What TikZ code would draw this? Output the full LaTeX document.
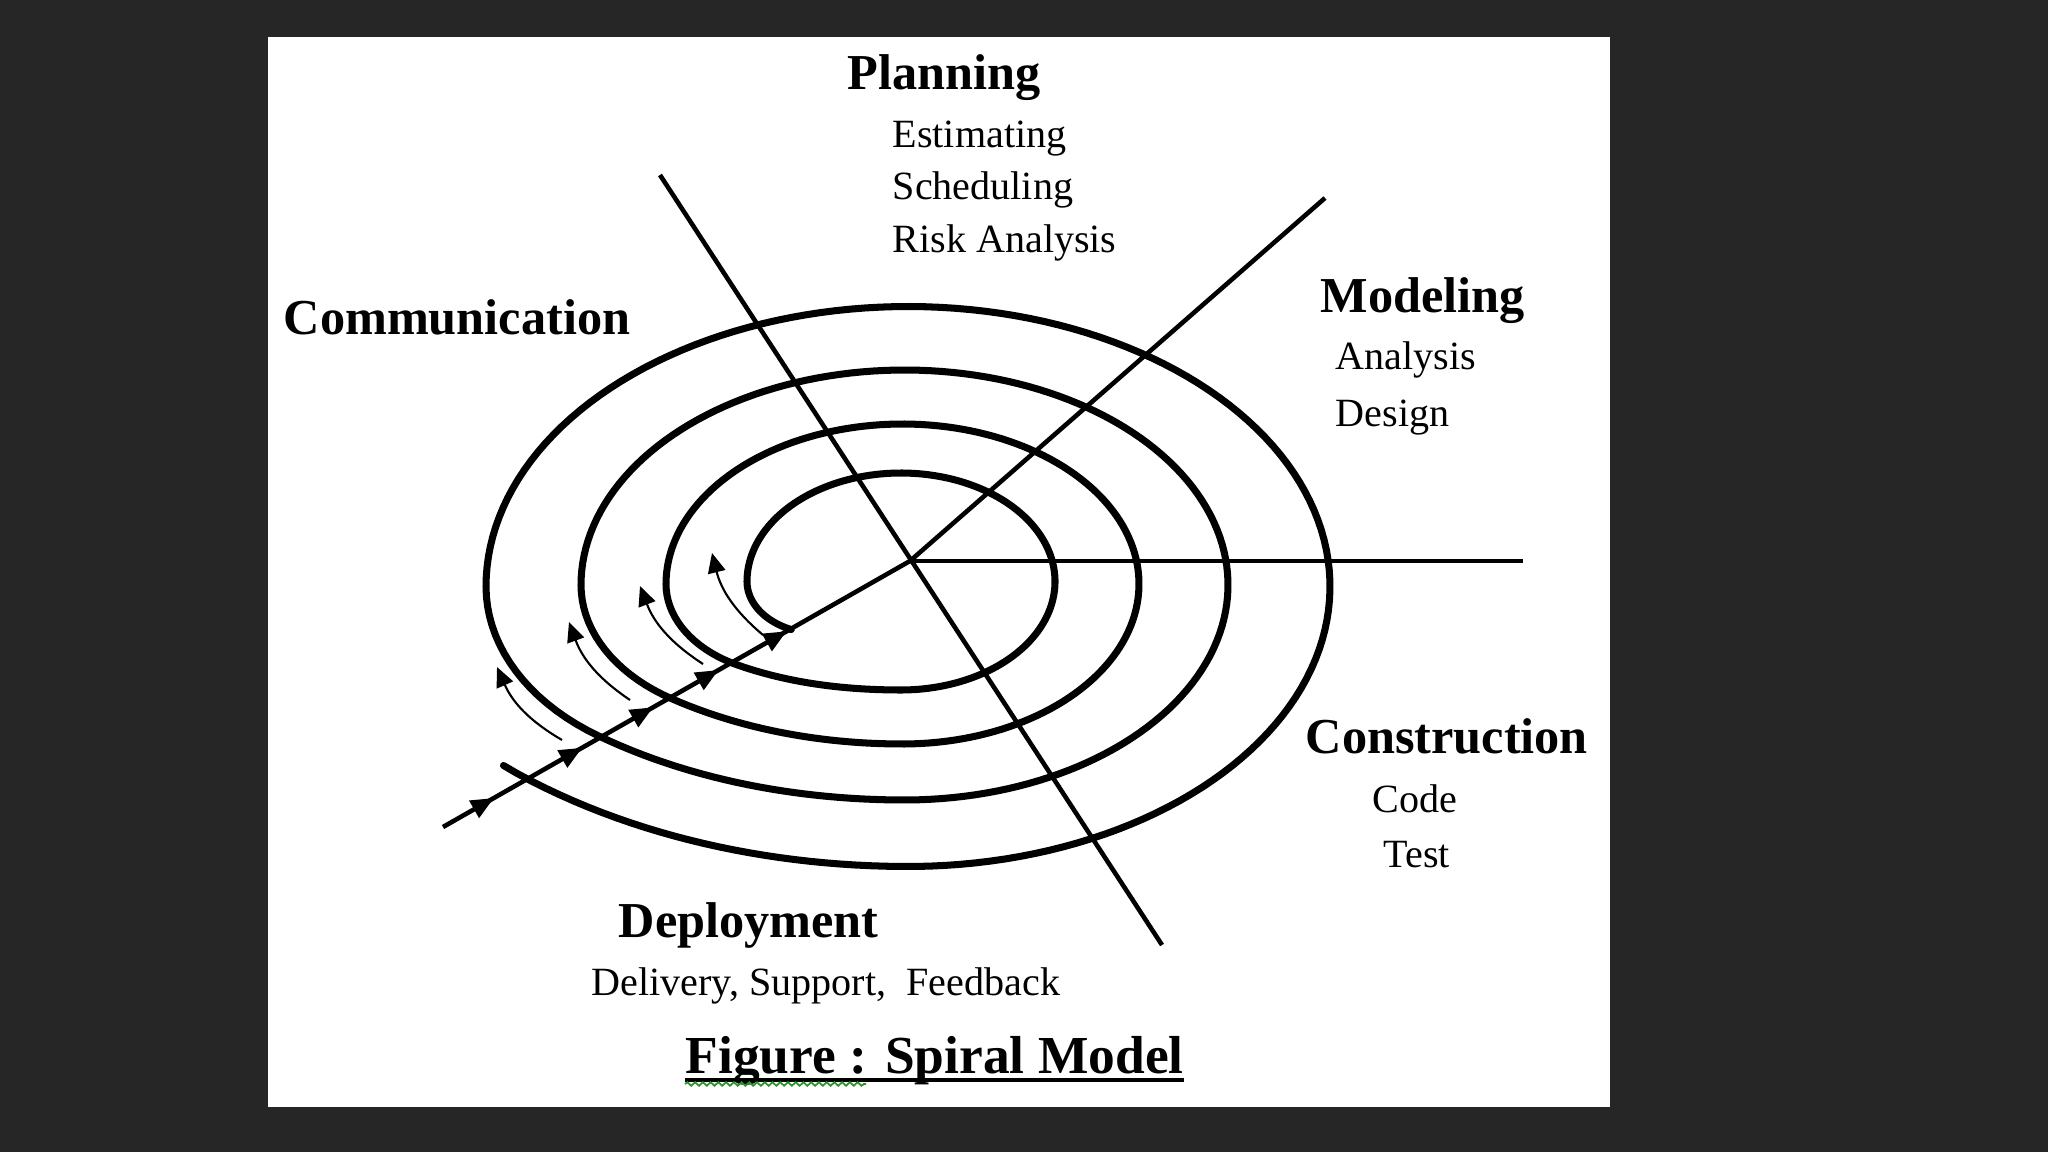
\documentclass[tikz,border=0pt]{standalone}
\usepackage{fontspec}
\setmainfont{Liberation Serif}
\usetikzlibrary{arrows.meta,decorations.markings,decorations.pathmorphing}
\definecolor{board}{RGB}{38,38,38}
\definecolor{squiggle}{RGB}{40,150,40}
\begin{document}
\begin{tikzpicture}[x=0.01cm, y=-0.01cm,
  ring/.style={line width=2pt, line cap=round, line join=round},
  axis/.style={line width=1.3pt},
  head/.style={font=\fontsize{14.3pt}{17pt}\selectfont\bfseries, anchor=base west, inner sep=0pt},
  sub/.style={font=\fontsize{11.4pt}{14pt}\selectfont, anchor=base west, inner sep=0pt},
  flow/.style={line width=0.6pt, -{Triangle[length=5.6pt, width=5pt]}},
  declare function={
    bw(\u)=min(max(\u/90,0),1);
    sw(\u)=ifthenelse(bw(\u)<0.4, bw(\u)*bw(\u)/0.4, 1-(1-bw(\u))*(1-bw(\u))/0.6);
    sx(\u,\ca,\cb,\ra,\rb)=\ca+sw(\u)*(\cb-\ca)+(\ra+sw(\u)*(\rb-\ra))*cos(180-\u);
    sy(\u,\ca,\cb,\ra,\rb)=\ca+sw(\u)*(\cb-\ca)+(\ra+sw(\u)*(\rb-\ra))*sin(180-\u);
  }]
\useasboundingbox (0,0) rectangle (2048,1152);
\fill[board] (0,0) rectangle (2048,1152);
\fill[white] (268,37) rectangle (1610,1107);

% spiral
\draw[ring]
  plot[domain=33.5:360, samples=160, variable=\r] ({sx(\r,910,908,521,422)},{sy(\r,588,586.5,345,280)})
  -- plot[domain=0:360, samples=180, variable=\r] ({sx(\r,908,904.5,422,323.5)},{sy(\r,586.5,585,280,215)})
  -- plot[domain=0:360, samples=180, variable=\r] ({sx(\r,904.5,902.5,323.5,236.5)},{sy(\r,585,584,215,160)})
  -- plot[domain=0:360, samples=180, variable=\r] ({sx(\r,902.5,901,236.5,154)},{sy(\r,584,581.5,160,108.5)})
  -- plot[domain=0:32, samples=20, variable=\r] ({sx(\r,901,900,154,75)},{sy(\r,581.5,580,108.5,55)});

% radial lines
\coordinate (O) at (910,561);
\coordinate (NW) at (660,175);
\coordinate (SE) at (1162,945);
\coordinate (NE) at (1325,198);
\coordinate (E) at (1523,561);
\coordinate (SW) at (443,827);
\draw[axis] (NW) -- (SE);
\draw[axis] (O) -- (NE);
\draw[axis] (O) -- (E);
\draw[axis, postaction={decorate}, decoration={markings,
    mark=at position 0.109 with {\arrow{Triangle[length=6.5pt,width=5.4pt]}},
    mark=at position 0.298 with {\arrow{Triangle[length=6.5pt,width=5.4pt]}},
    mark=at position 0.450 with {\arrow{Triangle[length=6.5pt,width=5.4pt]}},
    mark=at position 0.590 with {\arrow{Triangle[length=6.5pt,width=5.4pt]}},
    mark=at position 0.736 with {\arrow{Triangle[length=6.5pt,width=5.4pt]}}}] (SW) -- (O);

% small curved arrows
\coordinate (t1) at (562,740); \coordinate (h1) at (497,667);
\coordinate (t2) at (630,700); \coordinate (h2) at (569,622);
\coordinate (t3) at (703,664); \coordinate (h3) at (640,586);
\coordinate (t4) at (763,635); \coordinate (h4) at (712,553);
\draw[flow] (t1) to[bend left=18] (h1);
\draw[flow] (t2) to[bend left=18] (h2);
\draw[flow] (t3) to[bend left=18] (h3);
\draw[flow] (t4) to[bend left=18] (h4);

% labels
\node[head] (plan) at (847,90) {Planning};
\node[sub] (est) at (892,148) {Estimating};
\node[sub] (sched) at (892,200) {Scheduling};
\node[sub] (risk) at (892,253) {Risk Analysis};
\node[head] (comm) at (283,335) {Communication};
\node[head] (model) at (1320,313) {Modeling};
\node[sub] (anal) at (1335,370) {Analysis};
\node[sub] (des) at (1335,427) {Design};
\node[head] (cons) at (1305,753) {Construction};
\node[sub] (code) at (1372,812) {Code};
\node[sub] (test) at (1383,867) {Test};
\node[head] (dep) at (618,937) {Deployment};
\node[sub] (deliv) at (591,995) {Delivery, Support,~ Feedback};
\node[font=\fontsize{15.2pt}{18pt}\selectfont\bfseries, anchor=base west, inner sep=0pt] (cap) at (685,1073) {Figure : Spiral Model};
\draw[line width=1.1pt] ([yshift=-0.07cm]cap.base west) -- ([yshift=-0.07cm]cap.base east);
\draw[squiggle, line width=0.5pt, decorate, decoration={snake, amplitude=0.5pt, segment length=2.2pt}]
  ([yshift=-0.11cm]cap.base west) -- ([xshift=1.81cm,yshift=-0.11cm]cap.base west);
\end{tikzpicture}
\end{document}
